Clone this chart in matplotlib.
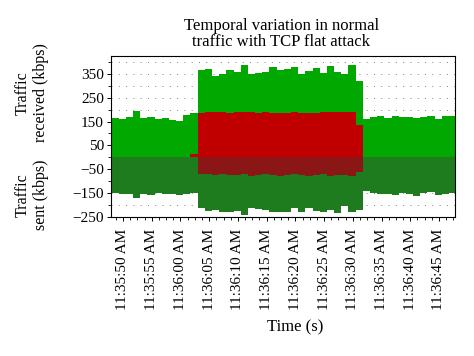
import matplotlib
matplotlib.use("Agg")
import matplotlib.pyplot as plt
import numpy as np
from matplotlib.ticker import MultipleLocator

plt.rcParams["font.family"] = ["Liberation Serif", "DejaVu Serif"]

# seconds after 11:35:50, one bar per 1.25 s bin
bin_width = 1.25
bin_start = np.arange(48) * bin_width - 2.0

# normal traffic received (kbps, positive)
received = [165, 162, 170, 192, 165, 168, 160, 163, 158, 152, 178, 185,
            366, 370, 342, 349, 366, 356, 385, 350, 352, 356, 377, 366,
            370, 380, 349, 360, 373, 352, 384, 356, 350, 388, 318,
            160, 168, 172, 165, 175, 168, 170, 165, 170, 175, 162, 172, 175]

# normal traffic sent (kbps, drawn negative)
sent = [-148, -152, -155, -170, -152, -157, -148, -155, -152, -157, -152, -150,
        -211, -225, -222, -228, -228, -225, -240, -211, -214, -222, -228, -228,
        -228, -211, -228, -211, -225, -228, -218, -232, -205, -228, -222,
        -140, -150, -155, -152, -158, -150, -155, -160, -150, -145, -158, -152, -150]

# TCP flat attack part of received traffic
attack_received = [0, 0, 0, 0, 0, 0, 0, 0, 0, 0, 0, 15,
                   186, 188, 189, 188, 187, 188, 189, 188, 187, 188, 187, 186,
                   187, 188, 187, 186, 187, 188, 189, 190, 191, 190, 135,
                   0, 0, 0, 0, 0, 0, 0, 0, 0, 0, 0, 0, 0]

# TCP flat attack part of sent traffic
attack_sent = [0, 0, 0, 0, 0, 0, 0, 0, 0, 0, 0, 0,
               -68, -70, -72, -68, -75, -73, -70, -76, -72, -70, -74, -77,
               -73, -70, -75, -78, -72, -70, -76, -74, -72, -78, -60,
               0, 0, 0, 0, 0, 0, 0, 0, 0, 0, 0, 0, 0]

tick_seconds = [0, 5, 10, 15, 20, 25, 30, 35, 40, 45, 50, 55]
tick_labels = ["11:35:50 AM", "11:35:55 AM", "11:36:00 AM", "11:36:05 AM",
               "11:36:10 AM", "11:36:15 AM", "11:36:20 AM", "11:36:25 AM",
               "11:36:30 AM", "11:36:35 AM", "11:36:40 AM", "11:36:45 AM"]
y_ticks = [350, 250, 150, 50, -50, -150, -250]

GREEN = "#00a800"
DARK_GREEN = "#1e7b1e"
RED = "#c00000"
DARK_RED = "#8a1616"

fig = plt.figure(figsize=(4.74, 3.56), dpi=100)
ax = fig.add_axes([0.234, 0.390, 0.726, 0.452])

bar_kw = dict(width=bin_width, align="edge", linewidth=0, zorder=2)
ax.bar(bin_start, received, color=GREEN, **bar_kw)
ax.bar(bin_start, sent, color=DARK_GREEN, **bar_kw)
ax.bar(bin_start, attack_received, color=RED, **bar_kw)
ax.bar(bin_start, attack_sent, color=DARK_RED, **bar_kw)

ax.set_xlim(-2.1, 57.8)
ax.set_ylim(-250, 423)

ax.set_xticks(tick_seconds)
ax.set_xticklabels(tick_labels, rotation=90, fontsize=11)
ax.xaxis.set_minor_locator(MultipleLocator(1.25))
ax.set_yticks(y_ticks)
ax.set_yticklabels([str(v).replace("-", "\u2212") for v in y_ticks], fontsize=11)
ax.yaxis.set_minor_locator(MultipleLocator(50))
ax.tick_params(which="major", direction="out", length=3, width=0.7, pad=2)
ax.tick_params(axis="x", which="major", pad=5)
ax.tick_params(which="minor", direction="out", length=2, width=0.6)

ax.grid(True, axis="y", which="both", color="0.5", linewidth=0.7,
        linestyle=(0, (1, 6.5)), zorder=1)
ax.set_axisbelow(True)
for spine in ax.spines.values():
    spine.set_linewidth(0.8)

fig.text(0.593, 0.905, "Temporal variation in normal\ntraffic with TCP flat attack",
         ha="center", va="center", fontsize=12, linespacing=1.05)
fig.text(0.068, 0.739, "Traffic\nreceived (kbps)", rotation=90, ha="center",
         va="center", fontsize=11.5, linespacing=1.2, multialignment="center")
fig.text(0.068, 0.452, "Traffic\nsent (kbps)", rotation=90, ha="center",
         va="center", fontsize=11.5, linespacing=1.2, multialignment="center")
fig.text(0.622, 0.079, "Time (s)", ha="center", va="center", fontsize=12)

fig.savefig("out.png", dpi=100)
